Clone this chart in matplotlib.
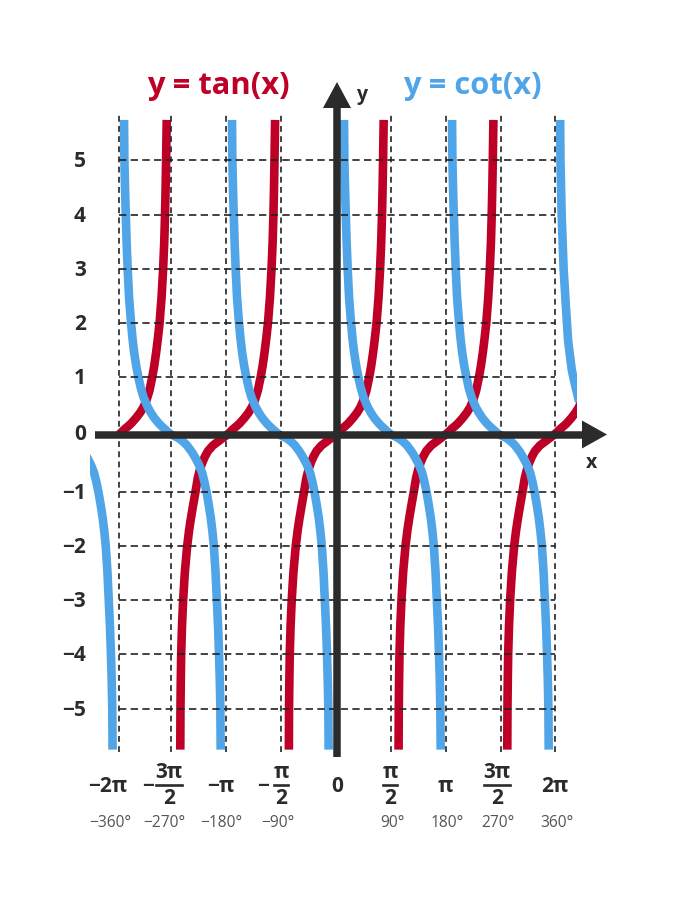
import matplotlib
matplotlib.use('Agg')
import matplotlib.pyplot as plt
from matplotlib.patches import Rectangle

# values
# tan branch: degrees away from the zero crossing -> y
tan_offset = [-77.8, -77.5, -77, -76.3, -75, -73, -70.2, -66.4, -63.3, -60.3, -56, -52.8, -49, -45.2, -41, -37,
              -32, -24, -18, -12, -6,
              0, 5, 9.5, 15, 20, 28, 35, 40.5, 45.5, 50.3, 55, 58.2, 61.4, 64.2, 67,
              70.3, 72.8, 74.7, 76, 77, 77.8, 78.8]
tan_value = [-5.74, -5.0, -4.5, -4.0, -3.5, -3.0, -2.5, -2.03, -1.75, -1.53, -1.25, -1.05, -0.8, -0.63, -0.5, -0.4,
             -0.3, -0.2, -0.15, -0.1, -0.05,
             0, 0.05, 0.1, 0.15, 0.2, 0.3, 0.4, 0.5, 0.63, 0.8, 1.05, 1.25, 1.5, 1.75, 2.03,
             2.5, 3.0, 3.5, 4.0, 4.5, 5.0, 5.73]

# cot branch: degrees away from its zero crossing -> y
cot_offset = [-77.6, -77, -76, -74.7, -73.3, -71.5, -69.3, -66, -63.6, -61, -57.5, -54, -50, -45.5, -38.5,
              -33.5, -27.5, -20, -15.5, -10.5, -5.5,
              0, 6, 13, 20, 26.5, 34.5, 41, 46.5, 51.5, 55.3, 58.7, 62.3, 65.8, 68.5, 70.7,
              73.5, 75.6, 77.7, 79.3, 80.6, 81.5, 82]
cot_value = [5.73, 5.0, 4.5, 4.0, 3.5, 3.0, 2.5, 2.03, 1.75, 1.5, 1.25, 1.05, 0.85, 0.68, 0.5,
             0.4, 0.3, 0.2, 0.15, 0.1, 0.05,
             0, -0.03, -0.07, -0.13, -0.2, -0.32, -0.44, -0.56, -0.7, -0.87, -1.05, -1.28, -1.53, -1.78, -2.03,
             -2.5, -3.0, -3.5, -4.0, -4.5, -5.0, -5.74]

# the piece of cot cut off at the right edge
cot_end_x = [368.5, 369, 371, 374.3, 377.6, 381.7, 387.8, 393.2, 399.8]
cot_end_y = [5.73, 5.0, 4.0, 3.0, 2.4, 1.7, 1.17, 0.9, 0.6]

tan_zeros = [-360, -181, -1.7, 179.5, 359]
cot_zeros = [-452.6, -274.1, -95.8, 89.2, 267.6]

grid_x = [-360, -274, -182.8, -92.5, 89.2, 180, 270.8, 360]
grid_y = [5, 4, 3.02, 2.036, 1.047, -1.04, -2.025, -3.015, -4, -4.995]
y_labels = ['5', '4', '3', '2', '1', '\u22121', '\u22122', '\u22123', '\u22124', '\u22125']

RED = '#BE0027'
BLUE = '#4FA5E8'
DARK = '#2B2B2B'

W, H = 673, 900
X0, PX_DEG = 337, 54.5 / 90
Y0, PX_UNIT = 434.5, 54.9

plt.rcParams['font.family'] = ['Open Sans', 'DejaVu Sans']

fig = plt.figure(figsize=(W / 100, H / 100), dpi=100, facecolor='white')
ax = fig.add_axes([0, 0, 1, 1])
ax.set_xlim(-X0 / PX_DEG, (W - X0) / PX_DEG)
ax.set_ylim((Y0 - H) / PX_UNIT, Y0 / PX_UNIT)
ax.axis('off')

# the curves are cut at these two pixel columns
cut_left, cut_right = (90 - X0) / PX_DEG, (576.5 - X0) / PX_DEG
cut = Rectangle((cut_left, -10), cut_right - cut_left, 20, transform=ax.transData)


def fx(p):
    return p / W


def fy(p):
    return 1 - p / H


def label(px, py, s, **kw):
    kw.setdefault('ha', 'center')
    kw.setdefault('va', 'center')
    kw.setdefault('color', DARK)
    kw.setdefault('fontweight', 'bold')
    fig.text(fx(px), fy(py), s, **kw)


def curve(xs, ys, color):
    line, = ax.plot(xs, ys, color=color, lw=6.2, solid_capstyle='butt', solid_joinstyle='round', zorder=2)
    line.set_clip_path(cut)


# curves
for z in tan_zeros:
    # the first branch starts at its zero crossing
    start = tan_offset.index(0) if z == -360 else 0
    curve([z + o for o in tan_offset[start:]], tan_value[start:], RED)
for z in cot_zeros:
    curve([z + o for o in cot_offset], cot_value, BLUE)
curve(cot_end_x, cot_end_y, BLUE)

# dashed grid
y_top, y_bottom = (Y0 - 113) / PX_UNIT, (Y0 - 752) / PX_UNIT
for g in grid_x:
    ax.plot([g, g], [y_bottom, y_top], color='#222222', lw=1.2, dashes=(3.5, 2.6), zorder=3)
for g in grid_y:
    ax.plot([-360, 360], [g, g], color='#222222', lw=1.2, dashes=(4.4, 2.6), zorder=3)

# axes with arrow heads
x_line = [(95 - X0) / PX_DEG, (585 - X0) / PX_DEG]
y_line = [(Y0 - 757) / PX_UNIT, (Y0 - 105) / PX_UNIT]
ax.plot(x_line, [0, 0], color=DARK, lw=5.4, solid_capstyle='butt', zorder=4)
ax.plot([0, 0], y_line, color=DARK, lw=5.4, solid_capstyle='butt', zorder=4)
ax.fill([(582 - X0) / PX_DEG, (607 - X0) / PX_DEG, (582 - X0) / PX_DEG],
        [14 / PX_UNIT, 0, -14 / PX_UNIT], color=DARK, lw=0, zorder=4)
ax.fill([-14 / PX_DEG, 0, 14 / PX_DEG],
        [(Y0 - 108) / PX_UNIT, (Y0 - 82) / PX_UNIT, (Y0 - 108) / PX_UNIT], color=DARK, lw=0, zorder=4)

# titles and axis names
label(218, 86, 'y = tan(x)', color=RED, fontsize=22.2)
label(472, 86, 'y = cot(x)', color=BLUE, fontsize=22.2)
label(362, 95, 'y', fontsize=14)
label(592, 463, 'x', fontsize=14)

# y labels
for g, s in zip(grid_y, y_labels):
    label(86, Y0 - g * PX_UNIT + 1.5, s, ha='right', fontsize=15)
label(86, 434, '0', ha='right', fontsize=15)

# x labels, plain ones
for px, s in [(108, '\u22122\u03c0'), (221, '\u2212\u03c0'), (337, '0'), (446, '\u03c0'), (555, '2\u03c0')]:
    label(px, 786, s, fontsize=15)

# x labels, fractions
for px, s in [(169, '3\u03c0'), (281, '\u03c0'), (390, '\u03c0'), (497, '3\u03c0')]:
    half = 13 if s == '3\u03c0' else 7
    label(px, 773, s, fontsize=15)
    label(px, 799, '2', fontsize=15)
    fig.add_artist(plt.Line2D([fx(px - half), fx(px + half)], [fy(785), fy(785)], color=DARK, lw=1.9))
label(148, 786, '\u2212', fontsize=15)
label(263, 786, '\u2212', fontsize=15)

# degree labels
for px, s in [(110, '\u2212360\u00b0'), (164, '\u2212270\u00b0'), (221, '\u2212180\u00b0'), (278, '\u221290\u00b0'),
              (392, '90\u00b0'), (447, '180\u00b0'), (498, '270\u00b0'), (557, '360\u00b0')]:
    label(px, 823, s, fontsize=11.2, fontweight='normal', color='#555555')

fig.savefig('out.png', dpi=100)
